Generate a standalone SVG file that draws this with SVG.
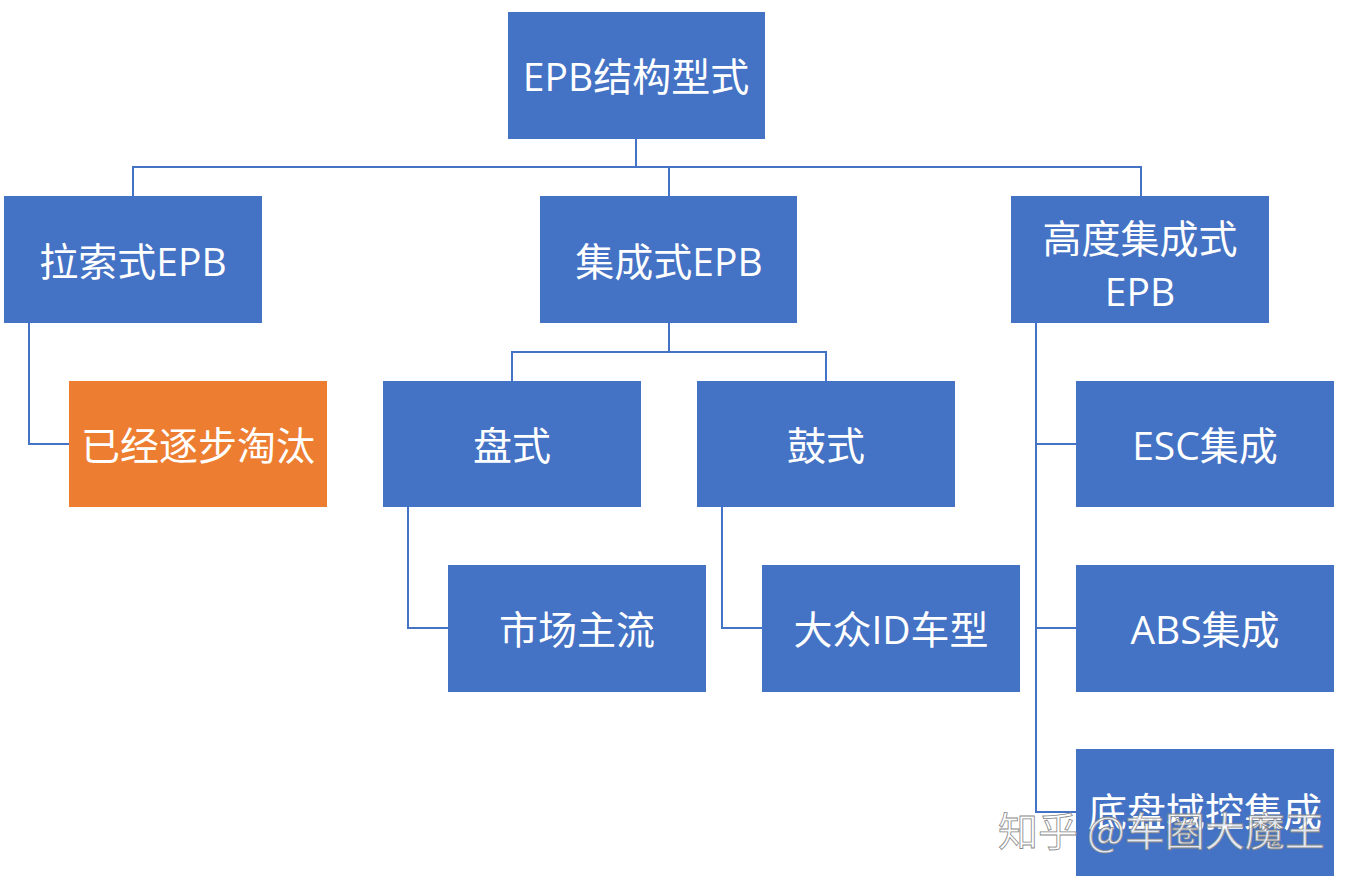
<svg xmlns="http://www.w3.org/2000/svg" width="1366" height="889" viewBox="0 0 1366 889">
<style>
.n{fill:#4472C4}
.o{fill:#ED7D31}
.t{fill:#fff;font-family:"Open Sans","Noto Sans CJK SC",sans-serif;font-size:39px;text-anchor:middle;dominant-baseline:central}
.c{fill:none;stroke:#4472C4;stroke-width:2}
.w{fill:#fff;fill-opacity:0.85;stroke:#888;stroke-width:0.8;font-family:"Noto Sans CJK SC",sans-serif;font-size:40px}
</style>
<rect width="1366" height="889" fill="#fff"/>
<g id="connectors">
<path class="c" d="M636 139V167M133 196V167H1141V196M669 167V196"/>
<path class="c" d="M29 323V444H69"/>
<path class="c" d="M669 323V352M512 381V352H826V381"/>
<path class="c" d="M408 507V628H448M722 507V628H762"/>
<path class="c" d="M1036 323V812H1076M1036 444H1076M1036 628H1076"/>
</g>
<g id="root"><rect class="n" x="508" y="12" width="257" height="127"/><text class="t" x="636" y="75">EPB结构型式</text></g>
<g id="n1"><rect class="n" x="4" y="196" width="258" height="127"/><text class="t" x="133" y="260">拉索式EPB</text></g>
<g id="n2"><rect class="n" x="540" y="196" width="257" height="127"/><text class="t" x="669" y="260">集成式EPB</text></g>
<g id="n3"><rect class="n" x="1011" y="196" width="258" height="127"/><text class="t" x="1140" y="237">高度集成式</text><text class="t" x="1140" y="290">EPB</text></g>
<g id="n4"><rect class="o" x="69" y="381" width="258" height="126"/><text class="t" x="198" y="444">已经逐步淘汰</text></g>
<g id="n5"><rect class="n" x="383" y="381" width="258" height="126"/><text class="t" x="512" y="444">盘式</text></g>
<g id="n6"><rect class="n" x="697" y="381" width="258" height="126"/><text class="t" x="826" y="444">鼓式</text></g>
<g id="n7"><rect class="n" x="448" y="565" width="258" height="127"/><text class="t" x="577" y="628">市场主流</text></g>
<g id="n8"><rect class="n" x="762" y="565" width="258" height="127"/><text class="t" x="891" y="628">大众ID车型</text></g>
<g id="n9"><rect class="n" x="1076" y="381" width="258" height="126"/><text class="t" x="1205" y="444">ESC集成</text></g>
<g id="n10"><rect class="n" x="1076" y="565" width="258" height="127"/><text class="t" x="1205" y="628">ABS集成</text></g>
<g id="n11"><rect class="n" x="1076" y="749" width="258" height="127"/><text class="t" x="1205" y="810">底盘域控集成</text></g>
<text class="w" x="998" y="846">知乎 @车圈大魔王</text>
</svg>
